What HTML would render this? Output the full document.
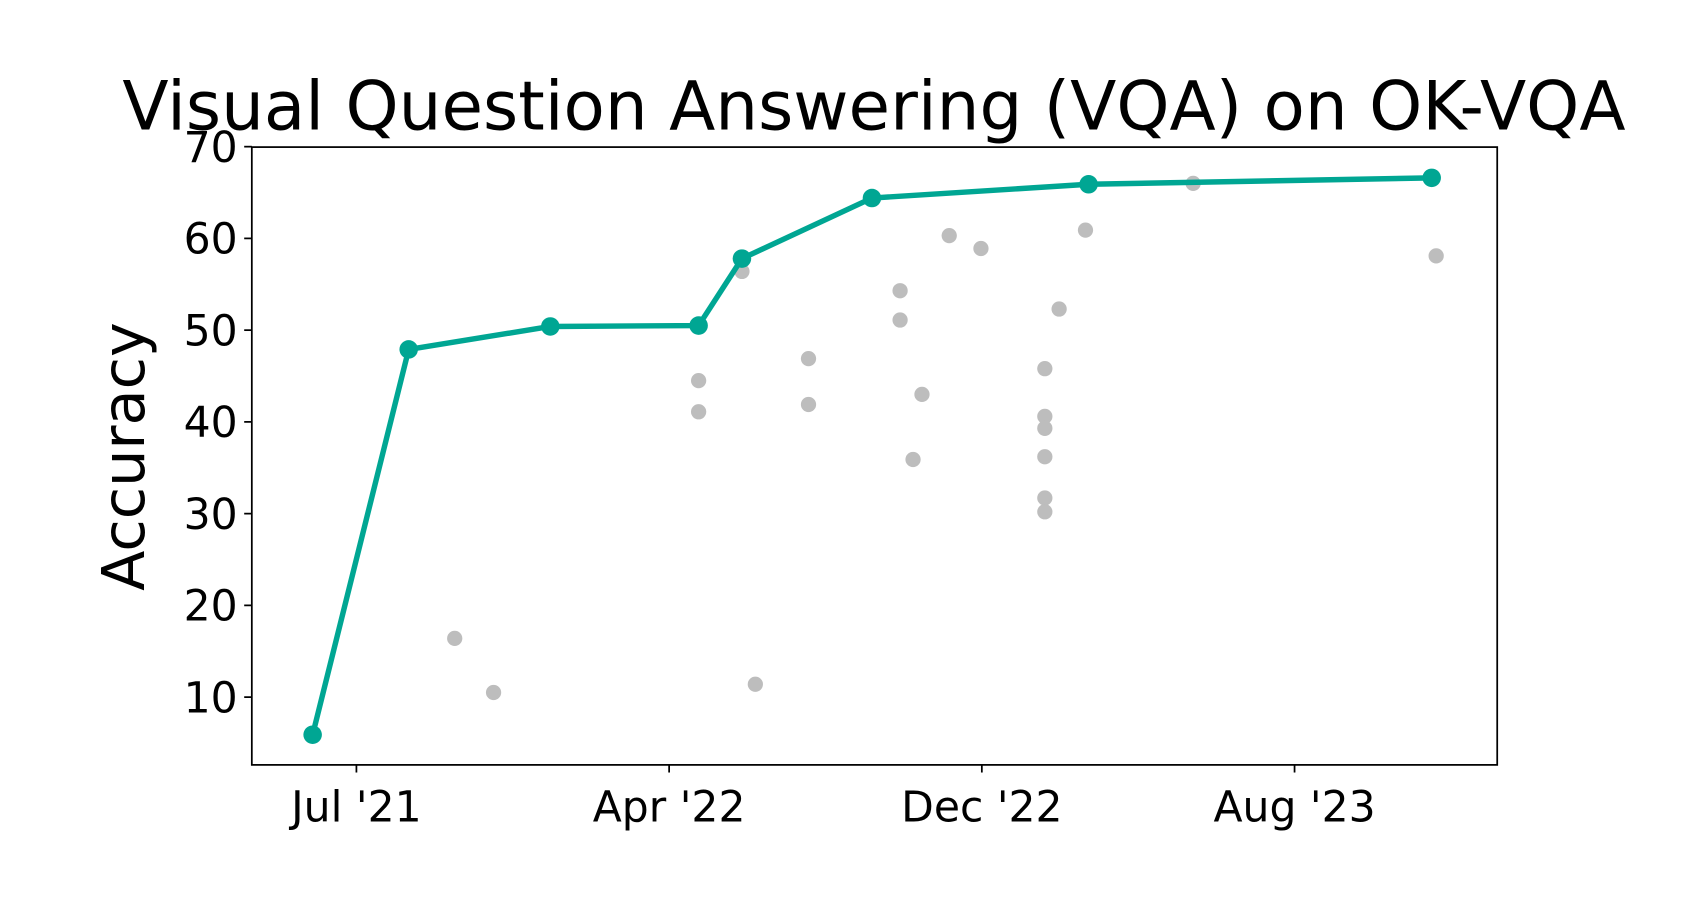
<!DOCTYPE html>
<html><head><meta charset="utf-8"><style>
html,body{margin:0;padding:0;background:#fff;}
svg{display:block;font-family:"DejaVu Sans","Liberation Sans",sans-serif;}
</style></head><body>
<svg id="chart" width="1700" height="900" viewBox="0 0 1560 826" xmlns="http://www.w3.org/2000/svg">
<rect width="1560" height="826" fill="#fff"/>
<text x="802" y="119" text-anchor="middle" font-size="62">Visual Question Answering (VQA) on OK-VQA</text>
<text transform="translate(132,419) rotate(-90)" text-anchor="middle" font-size="54">Accuracy</text>
<g id="ticks"></g>
<g id="marks"></g>
<rect x="231" y="135" width="1143" height="567" fill="none" stroke="#000" stroke-width="1.6"/>
</svg>
<script>
const frontierX = [2021.402, 2021.617, 2021.934, 2022.266, 2022.363, 2022.654, 2023.139, 2023.907];
const frontierY = [5.9, 47.9, 50.4, 50.5, 57.8, 64.4, 65.9, 66.6];
const otherX = [2021.720, 2021.807, 2022.266, 2022.266, 2022.363, 2022.393, 2022.512, 2022.512, 2022.717, 2022.717, 2022.746, 2022.766, 2022.827, 2022.898, 2023.041, 2023.041, 2023.041, 2023.041, 2023.041, 2023.041, 2023.073, 2023.132, 2023.373, 2023.917];
const otherY = [16.4, 10.5, 44.5, 41.1, 56.4, 11.4, 46.9, 41.9, 54.3, 51.1, 35.9, 43.0, 60.3, 58.9, 45.8, 40.6, 39.3, 36.2, 31.7, 30.2, 52.3, 60.9, 66.0, 58.1];
const yTicks = [10, 20, 30, 40, 50, 60, 70];
const xTickVals = [2021.5, 2022.2, 2022.9, 2023.6];
const xTickLabels = ["Jul '21", "Apr '22", "Dec '22", "Aug '23"];

const NS = "http://www.w3.org/2000/svg";
function sx(v){ return 327 + (v - 2021.5) * 410; }
function sy(v){ return 724 - v * 8.42; }
function mk(tag, attrs, parent){
  const e = document.createElementNS(NS, tag);
  for (const k in attrs) e.setAttribute(k, attrs[k]);
  parent.appendChild(e);
  return e;
}
const ticks = document.getElementById('ticks');
const marks = document.getElementById('marks');
yTicks.forEach(function(t){
  const l = mk('line', {x1:224, x2:231, y1:sy(t), y2:sy(t), stroke:'#000', 'stroke-width':1.6}, ticks);
  
  
  const tx = mk('text', {x:218, y:sy(t)+14, 'text-anchor':'end', 'font-size':39}, ticks);
  tx.textContent = t;
  
  
});
xTickVals.forEach(function(v, i){
  const l = mk('line', {x1:sx(v), x2:sx(v), y1:702, y2:709, stroke:'#000', 'stroke-width':1.6}, ticks);
  
  
  const tx = mk('text', {x:sx(v), y:754, 'text-anchor':'middle', 'font-size':39}, ticks);
  tx.textContent = xTickLabels[i];
  
  
});
otherX.forEach(function(v, i){
  const c = mk('circle', {cx:sx(v), cy:sy(otherY[i]), r:7, fill:'#bdbdbd'}, marks);
  
  
});
const pts = frontierX.map(function(v, i){ return sx(v) + ',' + sy(frontierY[i]); }).join(' ');
const pl = mk('polyline', {points:pts, fill:'none', stroke:'#00a693', 'stroke-width':5, 'stroke-linejoin':'round'}, marks);


frontierX.forEach(function(v, i){
  const c = mk('circle', {cx:sx(v), cy:sy(frontierY[i]), r:8.5, fill:'#00a693'}, marks);
  
  
});
</script>
</body></html>
